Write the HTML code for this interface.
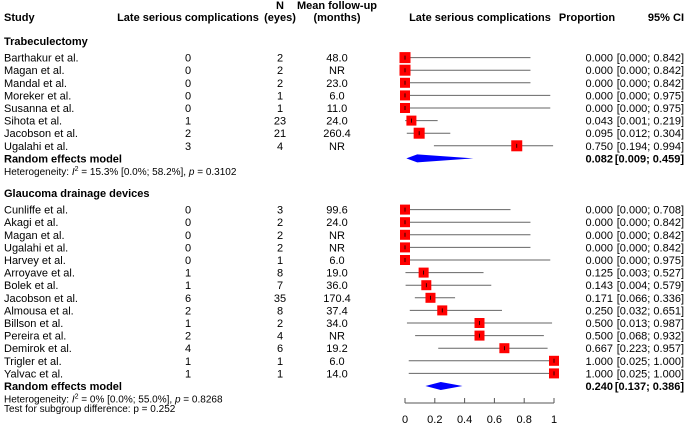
<!DOCTYPE html>
<html><head><meta charset="utf-8"><style>
html,body{margin:0;padding:0;background:#fff;}
svg{display:block;font-family:"Liberation Sans",Arial,sans-serif;font-size:11px;}
.b{font-weight:bold;}
</style></head><body>
<svg id="c" width="685" height="426" viewBox="0 0 685 426" xmlns="http://www.w3.org/2000/svg"></svg>
<script>
const g1Studies=["Barthakur et al.","Magan et al.","Mandal et al.","Moreker et al.","Susanna et al.","Sihota et al.","Jacobson et al.","Ugalahi et al."];
const g1Events=["0","0","0","0","0","1","2","3"];
const g1N=["2","2","2","1","1","23","21","4"];
const g1Fu=["48.0","NR","23.0","6.0","11.0","24.0","260.4","NR"];
const g1Prop=[0,0,0,0,0,0.043,0.095,0.750];
const g1Lo=[0,0,0,0,0,0.001,0.012,0.194];
const g1Hi=[0.842,0.842,0.842,0.975,0.975,0.219,0.304,0.994];
const g1Size=[11,11,10,10,10,10,11,11];
const g1Pooled=[0.082,0.009,0.459];
const g2Studies=["Cunliffe et al.","Akagi et al.","Magan et al.","Ugalahi et al.","Harvey et al.","Arroyave et al.","Bolek et al.","Jacobson et al.","Almousa et al.","Billson et al.","Pereira et al.","Demirok et al.","Trigler et al.","Yalvac et al."];
const g2Events=["0","0","0","0","0","1","1","6","2","1","2","4","1","1"];
const g2N=["3","2","2","2","1","8","7","35","8","2","4","6","1","1"];
const g2Fu=["99.6","24.0","NR","NR","6.0","19.0","36.0","170.4","37.4","34.0","NR","19.2","6.0","14.0"];
const g2Prop=[0,0,0,0,0,0.125,0.143,0.171,0.250,0.500,0.500,0.667,1.000,1.000];
const g2Lo=[0,0,0,0,0,0.003,0.004,0.066,0.032,0.013,0.068,0.223,0.025,0.025];
const g2Hi=[0.708,0.842,0.842,0.842,0.975,0.527,0.579,0.336,0.651,0.987,0.932,0.957,1.000,1.000];
const g2Size=[10,10,10,10,10,10,10,10,10,10,10,10,10,10];
const g2Pooled=[0.240,0.137,0.386];
const ticks=[0,0.2,0.4,0.6,0.8,1];

const svg=document.getElementById('c');
const NS="http://www.w3.org/2000/svg";
const X=v=>405+v*149;
function el(tag,attrs,name,txt){const e=document.createElementNS(NS,tag);for(const k in attrs)e.setAttribute(k,attrs[k]);


if(txt!==undefined)e.textContent=txt;svg.appendChild(e);return e;}
function t(x,y,s,anchor,name,cls){return el('text',{x:x,y:y,'text-anchor':anchor||'start','class':cls||''},name,s);}
t(4,21,"Study","start","header-study","b");
t(188,21,"Late serious complications","middle","header-events","b");
t(280,9,"N","middle","header-n","b");t(280,21,"(eyes)","middle","header-n-unit","b");
t(337,9,"Mean follow-up","middle","header-followup","b");t(337,21,"(months)","middle","header-followup-unit","b");
t(480,21,"Late serious complications","middle","header-plot","b");
t(587,21,"Proportion","middle","header-proportion","b");
t(684,21,"95% CI","end","header-ci","b");
const f=v=>v.toFixed(3);
function group(title,y0,studies,ev,n,fu,p,lo,hi,sz,pooled,het,gname){
  t(4,y0,title,"start",gname+"-title","b");
  studies.forEach((s,i)=>{const y=y0+12.6*(i+1);
    t(4,y+4,s,"start",gname+"-study-label");
    t(188,y+4,ev[i],"middle",gname+"-events");
    t(280,y+4,n[i],"middle",gname+"-n");
    t(337,y+4,fu[i],"middle",gname+"-followup");
    el('line',{x1:X(lo[i]),x2:X(hi[i]),y1:y,y2:y,stroke:'#666','stroke-width':1},gname+"-ci-line");
    const s2=sz[i];
    el('rect',{x:X(p[i])-s2/2,y:y-s2/2,width:s2,height:s2,fill:'#f00'},gname+"-point");
    el('line',{x1:X(p[i]),x2:X(p[i]),y1:y-2,y2:y+2,stroke:'#000','stroke-width':0.8},gname+"-point-tick");
    t(613,y+4,f(p[i]),"end",gname+"-proportion");
    t(684,y+4,"["+f(lo[i])+"; "+f(hi[i])+"]","end",gname+"-ci");
  });
  const yr=y0+12.6*(studies.length+1);
  t(4,yr+4,"Random effects model","start",gname+"-re-label","b");
  el('polygon',{points:`${X(pooled[1])},${yr} ${X(pooled[0])},${yr-4} ${X(pooled[2])},${yr} ${X(pooled[0])},${yr+4}`,fill:'#00f'},gname+"-diamond");
  t(613,yr+4,f(pooled[0]),"end",gname+"-pooled-proportion","b");
  t(684,yr+4,"["+f(pooled[1])+"; "+f(pooled[2])+"]","end",gname+"-pooled-ci","b");
  const h=el('text',{x:4,y:yr+16.5,'font-size':'10px'},gname+"-heterogeneity");
  h.innerHTML=het;
  return yr;
}
group("Trabeculectomy",45,g1Studies,g1Events,g1N,g1Fu,g1Prop,g1Lo,g1Hi,g1Size,g1Pooled,
 'Heterogeneity: <tspan font-style="italic">I</tspan><tspan dy="-4" font-size="7">2</tspan><tspan dy="4"> = 15.3% [0.0%; 58.2%], </tspan><tspan font-style="italic">p</tspan> = 0.3102',"trab");
group("Glaucoma drainage devices",197,g2Studies,g2Events,g2N,g2Fu,g2Prop,g2Lo,g2Hi,g2Size,g2Pooled,
 'Heterogeneity: <tspan font-style="italic">I</tspan><tspan dy="-4" font-size="7">2</tspan><tspan dy="4"> = 0% [0.0%; 55.0%], </tspan><tspan font-style="italic">p</tspan> = 0.8268',"gdd");
el('text',{x:4,y:412,'font-size':'10px'},"subgroup-test","Test for subgroup difference: p = 0.252");
el('line',{x1:X(0),x2:X(1),y1:403,y2:403,stroke:'#555'},"x-axis-line");
ticks.forEach(v=>{el('line',{x1:X(v),x2:X(v),y1:398,y2:403,stroke:'#555'},"x-axis-tick");
 t(X(v),423,String(v),"middle","x-axis-tick-label");});
</script>
</body></html>
